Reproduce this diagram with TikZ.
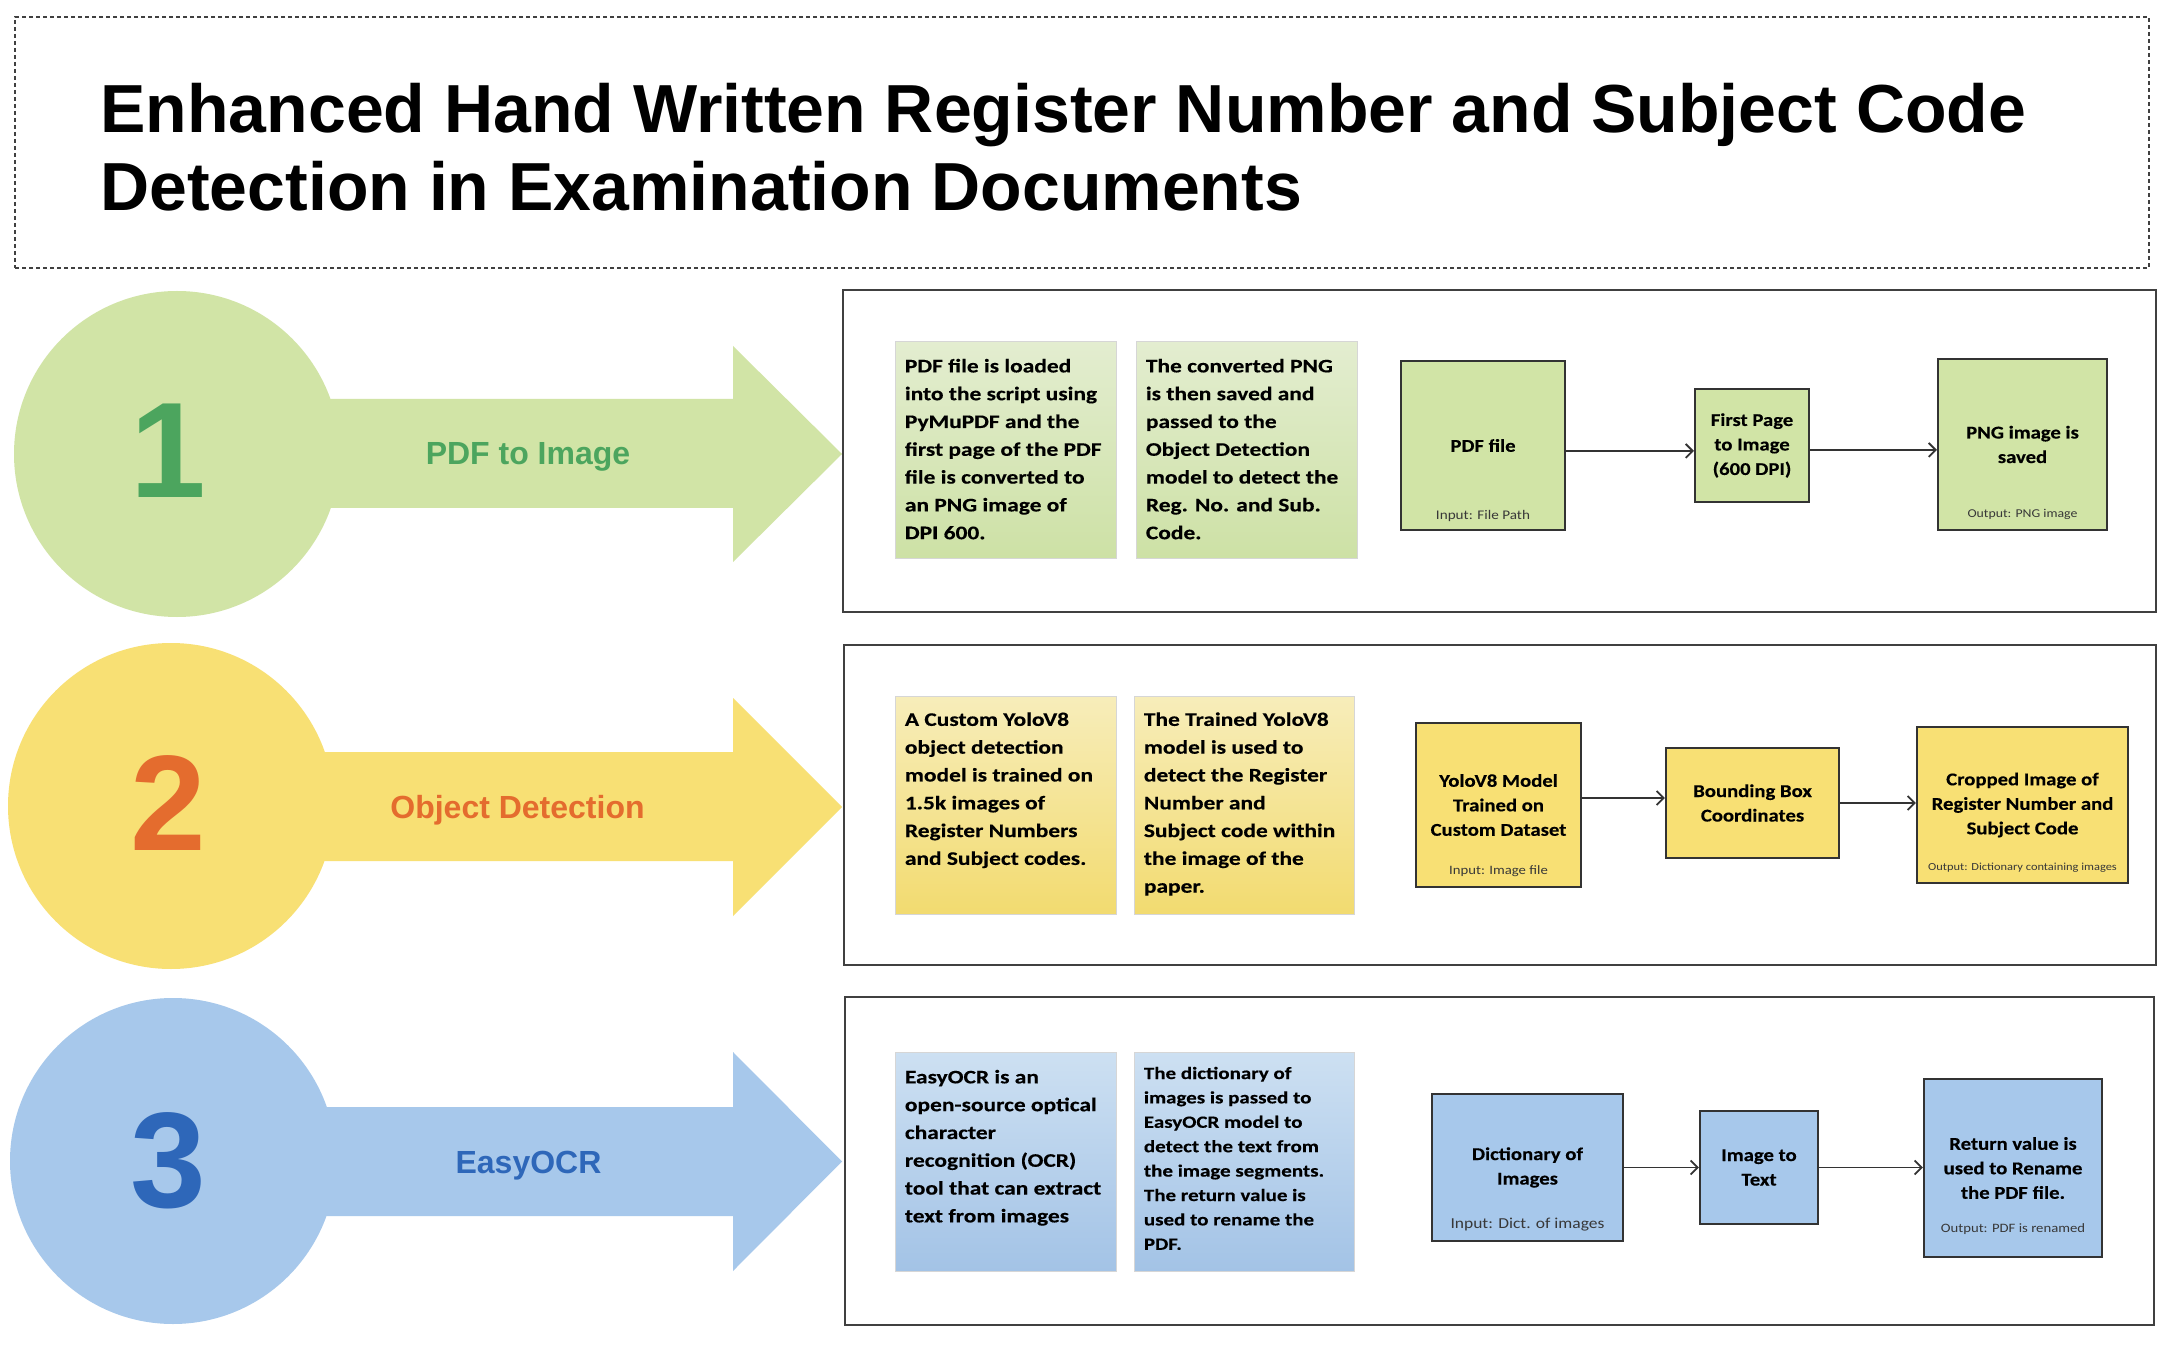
\documentclass[tikz,border=0pt]{standalone}
\usepackage{fontspec}
\setmainfont{Liberation Sans}
\newfontfamily\aptos[FakeStretch=1.15, BoldFeatures={FakeBold=0.35}]{Carlito}
\newfontfamily\aptosw[FakeStretch=1.22, BoldFeatures={FakeBold=0.35}]{Carlito}
\usetikzlibrary{arrows.meta,fit,calc}
\definecolor{gC}{HTML}{D1E4A6}
\definecolor{gT}{HTML}{E3EDD0}
\definecolor{gB}{HTML}{CDE1A5}
\definecolor{gD}{HTML}{4CA55E}
\definecolor{yC}{HTML}{F8E074}
\definecolor{yT}{HTML}{F7EDBA}
\definecolor{yB}{HTML}{F2DB70}
\definecolor{yD}{HTML}{E46C2E}
\definecolor{bC}{HTML}{A7C8EB}
\definecolor{bT}{HTML}{CDE0F2}
\definecolor{bB}{HTML}{A3C3E6}
\definecolor{bD}{HTML}{2E67B9}
\tikzset{
 tbox/.style={draw=black!16, line width=0.5pt, inner sep=0pt},
 ttext/.style={anchor=north west, inner sep=0pt, align=left, font=\aptosw\bfseries\fontsize{9.6}{13.9}\selectfont},
 ttextsm/.style={anchor=north west, inner sep=0pt, align=left, font=\aptosw\bfseries\fontsize{8.6}{12.2}\selectfont},
 fbox/.style={draw=black!80, line width=1.1pt, inner sep=0pt},
 ftext/.style={inner sep=0pt, align=center, font=\aptos\bfseries\fontsize{9}{12.25}\selectfont},
 fsmall/.style={anchor=base, inner sep=0pt, text=black!78, font=\aptos\fontsize{#1}{#1}\selectfont},
 conn/.style={draw=black!80, line width=0.9pt, -{Straight Barb[length=3.5pt,width=7pt]}},
 panel/.style={draw=black!75, line width=1.1pt, inner sep=0pt},
 digit/.style={inner sep=0pt, font=\bfseries\fontsize{68}{68}\selectfont},
 lbl/.style={anchor=base, inner sep=0pt, font=\bfseries\fontsize{16}{16}\selectfont},
 ttl/.style={anchor=base west, inner sep=0pt, font=\bfseries\fontsize{34}{39}\selectfont},
}
\begin{document}
\begin{tikzpicture}[x=0.5pt,y=-0.5pt]
\useasboundingbox (0,0) rectangle (2168,1347);
\fill[white] (0,0) rectangle (2168,1347);

% title
\node[draw=black!75, dash pattern=on 2pt off 1.5pt, line width=0.6pt, inner sep=0pt, fit={(15,17)(2149,268)}] (tbx) {};
\node[ttl] (title1) at (100,133) {Enhanced Hand Written Register Number and Subject Code};
\node[ttl] (title2) at (100,211) {Detection in Examination Documents};

% ---------- row 1 ----------
\fill[gC] (250,399) -- (733,399) -- (733,346) -- (842,454) -- (733,562) -- (733,508) -- (250,508) -- cycle;
\node[circle, fill=gC, minimum size=163pt, inner sep=0pt] (c1) at (177,454) {};
\node[digit, text=gD] (n1) at (168,450.5) {1};
\node[lbl, text=gD] (l1) at (528,465) {PDF to Image};

\node[panel, fit={(843,290)(2156,612)}] (p1) {};
\node[tbox, top color=gT, bottom color=gB, fit={(895,342)(1116,559)}] (t1a) {};
\node[tbox, top color=gT, bottom color=gB, fit={(1136,342)(1357,559)}] (t1b) {};
\node[ttext] (x1a) at ([shift={(10,17)}]t1a.north west) {PDF file is loaded\\into the script using\\PyMuPDF and the\\first page of the PDF\\file is converted to\\an PNG image of\\DPI 600.};
\node[ttext] (x1b) at ([shift={(10,17)}]t1b.north west) {The converted PNG\\is then saved and\\passed to the\\Object Detection\\model to detect the\\Reg. No. and Sub.\\Code.};

\node[fbox, fill=gC, fit={(1401,361)(1565,530)}] (f1a) {};
\node[fbox, fill=gC, fit={(1695,389)(1809,502)}] (f1b) {};
\node[fbox, fill=gC, fit={(1938,359)(2107,530)}] (f1c) {};
\node[ftext] (m1a) at (f1a.center) {PDF file};
\node[ftext] (m1b) at (f1b.center) {First Page\\to Image\\(600 DPI)};
\node[ftext] (m1c) at (f1c.center) {PNG image is\\saved};
\node[fsmall=6.6] (s1a) at ([yshift=6pt]f1a.south) {Input: File Path};
\node[fsmall=6] (s1c) at ([yshift=7pt]f1c.south) {Output: PNG image};
\draw[conn] ([yshift=-2.7pt]f1a.east) -- ([yshift=-2.7pt]f1a.east -| f1b.west);
\draw[conn] ([yshift=-2.2pt]f1b.east) -- ([yshift=-2.2pt]f1b.east -| f1c.west);

% ---------- row 2 ----------
\fill[yC] (250,752) -- (733,752) -- (733,698) -- (842,807) -- (733,916) -- (733,861) -- (250,861) -- cycle;
\node[circle, fill=yC, minimum size=163pt, inner sep=0pt] (c2) at (171,806) {};
\node[digit, text=yD] (n2) at (168,803.5) {2};
\node[lbl, text=yD] (l2) at (517.5,818) {Object Detection};

\node[panel, fit={(844,645)(2156,965)}] (p2) {};
\node[tbox, top color=yT, bottom color=yB, fit={(895,696)(1116,914)}] (t2a) {};
\node[tbox, top color=yT, bottom color=yB, fit={(1134,696)(1354,914)}] (t2b) {};
\node[ttext] (x2a) at ([shift={(10,16.5)}]t2a.north west) {A Custom YoloV8\\object detection\\model is trained on\\1.5k images of\\Register Numbers\\and Subject codes.};
\node[ttext] (x2b) at ([shift={(10,16.5)}]t2b.north west) {The Trained YoloV8\\model is used to\\detect the Register\\Number and\\Subject code within\\the image of the\\paper.};

\node[fbox, fill=yC, fit={(1416,723)(1581,887)}] (f2a) {};
\node[fbox, fill=yC, fit={(1666,748)(1839,858)}] (f2b) {};
\node[fbox, fill=yC, fit={(1917,727)(2128,883)}] (f2c) {};
\node[ftext] (m2a) at (f2a.center) {YoloV8 Model\\Trained on\\Custom Dataset};
\node[ftext] (m2b) at (f2b.center) {Bounding Box\\Coordinates};
\node[ftext] (m2c) at (f2c.center) {Cropped Image of\\Register Number and\\Subject Code};
\node[fsmall=6.4] (s2a) at ([yshift=7pt]f2a.south) {Input: Image file};
\node[fsmall=5.4] (s2c) at ([yshift=7pt]f2c.south) {Output: Dictionary containing images};
\draw[conn] ([yshift=3.5pt]f2a.east) -- ([yshift=3.5pt]f2a.east -| f2b.west);
\draw[conn] (f2b.east) -- (f2b.east -| f2c.west);

% ---------- row 3 ----------
\fill[bC] (250,1107) -- (733,1107) -- (733,1052) -- (842,1161.5) -- (733,1271) -- (733,1216) -- (250,1216) -- cycle;
\node[circle, fill=bC, minimum size=163pt, inner sep=0pt] (c3) at (173,1161) {};
\node[digit, text=bD] (n3) at (168,1160.5) {3};
\node[lbl, text=bD] (l3) at (528.5,1173) {EasyOCR};

\node[panel, fit={(845,997)(2154,1325)}] (p3) {};
\node[tbox, top color=bT, bottom color=bB, fit={(895,1052)(1116,1271)}] (t3a) {};
\node[tbox, top color=bT, bottom color=bB, fit={(1134,1052)(1354,1271)}] (t3b) {};
\node[ttext] (x3a) at ([shift={(10,18)}]t3a.north west) {EasyOCR is an\\open-source optical\\character\\recognition (OCR)\\tool that can extract\\text from images};
\node[ttextsm] (x3b) at ([shift={(10,15)}]t3b.north west) {The dictionary of\\images is passed to\\EasyOCR model to\\detect the text from\\the image segments.\\The return value is\\used to rename the\\PDF.};

\node[fbox, fill=bC, fit={(1432,1094)(1623,1241)}] (f3a) {};
\node[fbox, fill=bC, fit={(1700,1111)(1818,1224)}] (f3b) {};
\node[fbox, fill=bC, fit={(1924,1079)(2102,1257)}] (f3c) {};
\node[ftext] (m3a) at (f3a.center) {Dictionary of\\Images};
\node[ftext] (m3b) at (f3b.center) {Image to\\Text};
\node[ftext] (m3c) at (f3c.center) {Return value is\\used to Rename\\the PDF file.};
\node[fsmall=7.6] (s3a) at ([yshift=7pt]f3a.south) {Input: Dict. of  images};
\node[fsmall=6.4] (s3c) at ([yshift=13pt]f3c.south) {Output: PDF is renamed};
\draw[conn] (f3a.east) -- (f3a.east -| f3b.west);
\draw[conn] (f3b.east) -- (f3b.east -| f3c.west);
\end{tikzpicture}
\end{document}
